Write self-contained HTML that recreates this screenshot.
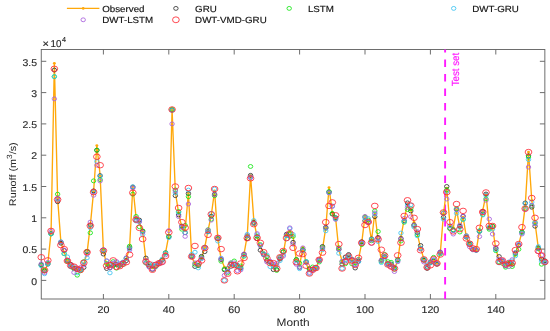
<!DOCTYPE html>
<html><head><meta charset="utf-8"><title>Runoff</title><style>html,body{margin:0;padding:0;background:#fff}body{width:550px;height:331px;overflow:hidden}</style></head><body>
<svg width="550" height="331" viewBox="0 0 550 331" style="display:block" text-rendering="geometricPrecision">
<rect width="550" height="331" fill="#fff"/>
<g stroke="#666666" stroke-width="0.95" fill="none" shape-rendering="auto">
<rect x="41.27" y="49.50" width="503.58" height="249.50"/>
<path d="M103.40 299.00v-5M103.40 49.50v5"/>
<path d="M168.80 299.00v-5M168.80 49.50v5"/>
<path d="M234.20 299.00v-5M234.20 49.50v5"/>
<path d="M299.60 299.00v-5M299.60 49.50v5"/>
<path d="M365.00 299.00v-5M365.00 49.50v5"/>
<path d="M430.40 299.00v-5M430.40 49.50v5"/>
<path d="M495.80 299.00v-5M495.80 49.50v5"/>
<path d="M41.27 280.40h5M544.85 280.40h-5"/>
<path d="M41.27 249.10h5M544.85 249.10h-5"/>
<path d="M41.27 217.80h5M544.85 217.80h-5"/>
<path d="M41.27 186.50h5M544.85 186.50h-5"/>
<path d="M41.27 155.20h5M544.85 155.20h-5"/>
<path d="M41.27 123.90h5M544.85 123.90h-5"/>
<path d="M41.27 92.60h5M544.85 92.60h-5"/>
<path d="M41.27 61.30h5M544.85 61.30h-5"/>
</g>
<g font-family="'Liberation Sans', Arial, sans-serif" font-size="9.8" fill="#262626" stroke="#262626" stroke-width="0.12">
<text transform="translate(103.40 312.5) scale(1.09 1)" text-anchor="middle">20</text>
<text transform="translate(168.80 312.5) scale(1.09 1)" text-anchor="middle">40</text>
<text transform="translate(234.20 312.5) scale(1.09 1)" text-anchor="middle">60</text>
<text transform="translate(299.60 312.5) scale(1.09 1)" text-anchor="middle">80</text>
<text transform="translate(365.00 312.5) scale(1.09 1)" text-anchor="middle">100</text>
<text transform="translate(430.40 312.5) scale(1.09 1)" text-anchor="middle">120</text>
<text transform="translate(495.80 312.5) scale(1.09 1)" text-anchor="middle">140</text>
<text transform="translate(37 284.60) scale(1.07 1)" text-anchor="end">0</text>
<text transform="translate(37 253.30) scale(1.07 1)" text-anchor="end">0.5</text>
<text transform="translate(37 222.00) scale(1.07 1)" text-anchor="end">1</text>
<text transform="translate(37 190.70) scale(1.07 1)" text-anchor="end">1.5</text>
<text transform="translate(37 159.40) scale(1.07 1)" text-anchor="end">2</text>
<text transform="translate(37 128.10) scale(1.07 1)" text-anchor="end">2.5</text>
<text transform="translate(37 96.80) scale(1.07 1)" text-anchor="end">3</text>
<text transform="translate(37 65.50) scale(1.07 1)" text-anchor="end">3.5</text>
<text transform="translate(42.5 47.2) scale(1.1 1)" font-size="10">×</text><text transform="translate(50.5 47.3) scale(0.98 1)" font-size="10">10</text><text transform="translate(62 42.3) scale(1 1)" font-size="7.2">4</text>
</g>
<g font-family="'Liberation Sans', Arial, sans-serif" font-size="11" fill="#262626">
<text transform="translate(293.06 325.6) scale(1.1 1)" text-anchor="middle" font-size="10.8">Month</text>
<text transform="translate(16 174.25) rotate(-90) scale(1.12 1)" text-anchor="middle" font-size="9.65">Runoff (m<tspan dy="-4" font-size="7.5">3</tspan><tspan dy="4">/s)</tspan></text>
</g>
<path d="M445.12 299.00V49.50" stroke="#ff1aff" stroke-width="1.9" stroke-dasharray="7.5 7" fill="none"/>
<text transform="translate(459.3 69.6) rotate(-90) scale(0.94 1)" text-anchor="middle" font-family="'Liberation Sans', Arial, sans-serif" font-size="10.3" fill="#ff1aff" stroke="#ff1aff" stroke-width="0.2">Test set</text>
<polyline points="41.27,264.12 44.54,271.64 47.81,263.50 51.08,232.20 54.35,63.18 57.62,198.39 60.89,242.21 64.16,252.23 67.43,260.99 70.70,266.00 73.97,268.51 77.24,270.07 80.51,269.76 83.78,264.12 87.05,252.86 90.32,225.31 93.59,191.51 96.86,145.43 100.13,175.23 103.40,250.35 106.67,265.06 109.94,266.00 113.21,264.12 116.48,264.75 119.75,264.75 123.02,263.50 126.29,259.12 129.56,247.85 132.83,186.50 136.10,217.80 139.37,222.81 142.64,231.57 145.91,259.99 149.18,265.00 152.45,267.88 155.72,265.69 158.99,262.87 162.26,260.99 165.53,252.86 168.80,235.33 172.07,109.19 175.34,192.13 178.61,212.79 181.88,227.82 185.15,230.32 188.42,192.76 191.69,257.24 194.96,263.50 198.23,265.38 201.50,258.49 204.77,247.22 208.04,230.32 211.31,214.98 214.58,190.88 217.85,239.08 221.12,259.12 224.39,266.94 227.66,270.07 230.93,265.06 234.20,266.00 237.47,267.88 240.74,268.51 244.01,254.11 247.28,235.33 250.55,175.23 253.82,220.30 257.09,237.21 260.36,247.22 263.63,252.23 266.90,259.12 270.17,264.12 273.44,265.69 276.71,266.63 279.98,259.12 283.25,254.11 286.52,234.70 289.79,231.57 293.06,236.58 296.33,259.99 299.60,265.69 302.87,247.22 306.14,263.50 309.41,271.01 312.68,269.44 315.95,267.88 319.22,260.37 322.49,249.10 325.76,227.82 329.03,187.44 332.30,212.79 335.57,217.80 338.84,250.04 342.11,260.99 345.38,259.12 348.65,255.99 351.92,259.99 355.19,264.12 358.46,259.74 361.73,242.84 365.00,215.92 368.27,220.93 371.54,240.34 374.81,212.79 378.08,240.02 381.35,260.99 384.62,255.99 387.89,264.12 391.16,265.06 394.43,267.88 397.70,261.62 400.97,236.58 404.24,219.05 407.51,204.03 410.78,209.97 414.05,222.18 417.32,234.08 420.59,247.85 423.86,259.12 427.13,265.69 430.40,262.25 433.67,260.37 436.94,263.50 440.21,254.42 443.48,214.04 446.75,188.00 450.02,225.00 453.29,227.82 456.56,209.97 459.83,227.82 463.10,217.17 466.37,237.21 469.64,244.09 472.91,249.10 476.18,250.98 479.45,230.32 482.72,210.91 485.99,194.01 489.26,227.19 492.53,227.19 495.80,249.10 499.07,259.99 502.34,261.62 505.61,264.12 508.88,262.87 512.15,264.12 515.42,254.42 518.69,244.09 521.96,232.20 525.23,205.91 528.50,152.07 531.77,200.27 535.04,223.00 538.31,247.85 541.58,259.74 544.85,260.99" fill="none" stroke="#ffa80a" stroke-width="1.35" stroke-linejoin="miter"/>
<g fill="#ffa80a">
<ellipse cx="41.27" cy="264.12" rx="1.45" ry="1.3"/>
<ellipse cx="44.54" cy="271.64" rx="1.45" ry="1.3"/>
<ellipse cx="47.81" cy="263.50" rx="1.45" ry="1.3"/>
<ellipse cx="51.08" cy="232.20" rx="1.45" ry="1.3"/>
<ellipse cx="54.35" cy="63.18" rx="1.45" ry="1.3"/>
<ellipse cx="57.62" cy="198.39" rx="1.45" ry="1.3"/>
<ellipse cx="60.89" cy="242.21" rx="1.45" ry="1.3"/>
<ellipse cx="64.16" cy="252.23" rx="1.45" ry="1.3"/>
<ellipse cx="67.43" cy="260.99" rx="1.45" ry="1.3"/>
<ellipse cx="70.70" cy="266.00" rx="1.45" ry="1.3"/>
<ellipse cx="73.97" cy="268.51" rx="1.45" ry="1.3"/>
<ellipse cx="77.24" cy="270.07" rx="1.45" ry="1.3"/>
<ellipse cx="80.51" cy="269.76" rx="1.45" ry="1.3"/>
<ellipse cx="83.78" cy="264.12" rx="1.45" ry="1.3"/>
<ellipse cx="87.05" cy="252.86" rx="1.45" ry="1.3"/>
<ellipse cx="90.32" cy="225.31" rx="1.45" ry="1.3"/>
<ellipse cx="93.59" cy="191.51" rx="1.45" ry="1.3"/>
<ellipse cx="96.86" cy="145.43" rx="1.45" ry="1.3"/>
<ellipse cx="100.13" cy="175.23" rx="1.45" ry="1.3"/>
<ellipse cx="103.40" cy="250.35" rx="1.45" ry="1.3"/>
<ellipse cx="106.67" cy="265.06" rx="1.45" ry="1.3"/>
<ellipse cx="109.94" cy="266.00" rx="1.45" ry="1.3"/>
<ellipse cx="113.21" cy="264.12" rx="1.45" ry="1.3"/>
<ellipse cx="116.48" cy="264.75" rx="1.45" ry="1.3"/>
<ellipse cx="119.75" cy="264.75" rx="1.45" ry="1.3"/>
<ellipse cx="123.02" cy="263.50" rx="1.45" ry="1.3"/>
<ellipse cx="126.29" cy="259.12" rx="1.45" ry="1.3"/>
<ellipse cx="129.56" cy="247.85" rx="1.45" ry="1.3"/>
<ellipse cx="132.83" cy="186.50" rx="1.45" ry="1.3"/>
<ellipse cx="136.10" cy="217.80" rx="1.45" ry="1.3"/>
<ellipse cx="139.37" cy="222.81" rx="1.45" ry="1.3"/>
<ellipse cx="142.64" cy="231.57" rx="1.45" ry="1.3"/>
<ellipse cx="145.91" cy="259.99" rx="1.45" ry="1.3"/>
<ellipse cx="149.18" cy="265.00" rx="1.45" ry="1.3"/>
<ellipse cx="152.45" cy="267.88" rx="1.45" ry="1.3"/>
<ellipse cx="155.72" cy="265.69" rx="1.45" ry="1.3"/>
<ellipse cx="158.99" cy="262.87" rx="1.45" ry="1.3"/>
<ellipse cx="162.26" cy="260.99" rx="1.45" ry="1.3"/>
<ellipse cx="165.53" cy="252.86" rx="1.45" ry="1.3"/>
<ellipse cx="168.80" cy="235.33" rx="1.45" ry="1.3"/>
<ellipse cx="172.07" cy="109.19" rx="1.45" ry="1.3"/>
<ellipse cx="175.34" cy="192.13" rx="1.45" ry="1.3"/>
<ellipse cx="178.61" cy="212.79" rx="1.45" ry="1.3"/>
<ellipse cx="181.88" cy="227.82" rx="1.45" ry="1.3"/>
<ellipse cx="185.15" cy="230.32" rx="1.45" ry="1.3"/>
<ellipse cx="188.42" cy="192.76" rx="1.45" ry="1.3"/>
<ellipse cx="191.69" cy="257.24" rx="1.45" ry="1.3"/>
<ellipse cx="194.96" cy="263.50" rx="1.45" ry="1.3"/>
<ellipse cx="198.23" cy="265.38" rx="1.45" ry="1.3"/>
<ellipse cx="201.50" cy="258.49" rx="1.45" ry="1.3"/>
<ellipse cx="204.77" cy="247.22" rx="1.45" ry="1.3"/>
<ellipse cx="208.04" cy="230.32" rx="1.45" ry="1.3"/>
<ellipse cx="211.31" cy="214.98" rx="1.45" ry="1.3"/>
<ellipse cx="214.58" cy="190.88" rx="1.45" ry="1.3"/>
<ellipse cx="217.85" cy="239.08" rx="1.45" ry="1.3"/>
<ellipse cx="221.12" cy="259.12" rx="1.45" ry="1.3"/>
<ellipse cx="224.39" cy="266.94" rx="1.45" ry="1.3"/>
<ellipse cx="227.66" cy="270.07" rx="1.45" ry="1.3"/>
<ellipse cx="230.93" cy="265.06" rx="1.45" ry="1.3"/>
<ellipse cx="234.20" cy="266.00" rx="1.45" ry="1.3"/>
<ellipse cx="237.47" cy="267.88" rx="1.45" ry="1.3"/>
<ellipse cx="240.74" cy="268.51" rx="1.45" ry="1.3"/>
<ellipse cx="244.01" cy="254.11" rx="1.45" ry="1.3"/>
<ellipse cx="247.28" cy="235.33" rx="1.45" ry="1.3"/>
<ellipse cx="250.55" cy="175.23" rx="1.45" ry="1.3"/>
<ellipse cx="253.82" cy="220.30" rx="1.45" ry="1.3"/>
<ellipse cx="257.09" cy="237.21" rx="1.45" ry="1.3"/>
<ellipse cx="260.36" cy="247.22" rx="1.45" ry="1.3"/>
<ellipse cx="263.63" cy="252.23" rx="1.45" ry="1.3"/>
<ellipse cx="266.90" cy="259.12" rx="1.45" ry="1.3"/>
<ellipse cx="270.17" cy="264.12" rx="1.45" ry="1.3"/>
<ellipse cx="273.44" cy="265.69" rx="1.45" ry="1.3"/>
<ellipse cx="276.71" cy="266.63" rx="1.45" ry="1.3"/>
<ellipse cx="279.98" cy="259.12" rx="1.45" ry="1.3"/>
<ellipse cx="283.25" cy="254.11" rx="1.45" ry="1.3"/>
<ellipse cx="286.52" cy="234.70" rx="1.45" ry="1.3"/>
<ellipse cx="289.79" cy="231.57" rx="1.45" ry="1.3"/>
<ellipse cx="293.06" cy="236.58" rx="1.45" ry="1.3"/>
<ellipse cx="296.33" cy="259.99" rx="1.45" ry="1.3"/>
<ellipse cx="299.60" cy="265.69" rx="1.45" ry="1.3"/>
<ellipse cx="302.87" cy="247.22" rx="1.45" ry="1.3"/>
<ellipse cx="306.14" cy="263.50" rx="1.45" ry="1.3"/>
<ellipse cx="309.41" cy="271.01" rx="1.45" ry="1.3"/>
<ellipse cx="312.68" cy="269.44" rx="1.45" ry="1.3"/>
<ellipse cx="315.95" cy="267.88" rx="1.45" ry="1.3"/>
<ellipse cx="319.22" cy="260.37" rx="1.45" ry="1.3"/>
<ellipse cx="322.49" cy="249.10" rx="1.45" ry="1.3"/>
<ellipse cx="325.76" cy="227.82" rx="1.45" ry="1.3"/>
<ellipse cx="329.03" cy="187.44" rx="1.45" ry="1.3"/>
<ellipse cx="332.30" cy="212.79" rx="1.45" ry="1.3"/>
<ellipse cx="335.57" cy="217.80" rx="1.45" ry="1.3"/>
<ellipse cx="338.84" cy="250.04" rx="1.45" ry="1.3"/>
<ellipse cx="342.11" cy="260.99" rx="1.45" ry="1.3"/>
<ellipse cx="345.38" cy="259.12" rx="1.45" ry="1.3"/>
<ellipse cx="348.65" cy="255.99" rx="1.45" ry="1.3"/>
<ellipse cx="351.92" cy="259.99" rx="1.45" ry="1.3"/>
<ellipse cx="355.19" cy="264.12" rx="1.45" ry="1.3"/>
<ellipse cx="358.46" cy="259.74" rx="1.45" ry="1.3"/>
<ellipse cx="361.73" cy="242.84" rx="1.45" ry="1.3"/>
<ellipse cx="365.00" cy="215.92" rx="1.45" ry="1.3"/>
<ellipse cx="368.27" cy="220.93" rx="1.45" ry="1.3"/>
<ellipse cx="371.54" cy="240.34" rx="1.45" ry="1.3"/>
<ellipse cx="374.81" cy="212.79" rx="1.45" ry="1.3"/>
<ellipse cx="378.08" cy="240.02" rx="1.45" ry="1.3"/>
<ellipse cx="381.35" cy="260.99" rx="1.45" ry="1.3"/>
<ellipse cx="384.62" cy="255.99" rx="1.45" ry="1.3"/>
<ellipse cx="387.89" cy="264.12" rx="1.45" ry="1.3"/>
<ellipse cx="391.16" cy="265.06" rx="1.45" ry="1.3"/>
<ellipse cx="394.43" cy="267.88" rx="1.45" ry="1.3"/>
<ellipse cx="397.70" cy="261.62" rx="1.45" ry="1.3"/>
<ellipse cx="400.97" cy="236.58" rx="1.45" ry="1.3"/>
<ellipse cx="404.24" cy="219.05" rx="1.45" ry="1.3"/>
<ellipse cx="407.51" cy="204.03" rx="1.45" ry="1.3"/>
<ellipse cx="410.78" cy="209.97" rx="1.45" ry="1.3"/>
<ellipse cx="414.05" cy="222.18" rx="1.45" ry="1.3"/>
<ellipse cx="417.32" cy="234.08" rx="1.45" ry="1.3"/>
<ellipse cx="420.59" cy="247.85" rx="1.45" ry="1.3"/>
<ellipse cx="423.86" cy="259.12" rx="1.45" ry="1.3"/>
<ellipse cx="427.13" cy="265.69" rx="1.45" ry="1.3"/>
<ellipse cx="430.40" cy="262.25" rx="1.45" ry="1.3"/>
<ellipse cx="433.67" cy="260.37" rx="1.45" ry="1.3"/>
<ellipse cx="436.94" cy="263.50" rx="1.45" ry="1.3"/>
<ellipse cx="440.21" cy="254.42" rx="1.45" ry="1.3"/>
<ellipse cx="443.48" cy="214.04" rx="1.45" ry="1.3"/>
<ellipse cx="446.75" cy="188.00" rx="1.45" ry="1.3"/>
<ellipse cx="450.02" cy="225.00" rx="1.45" ry="1.3"/>
<ellipse cx="453.29" cy="227.82" rx="1.45" ry="1.3"/>
<ellipse cx="456.56" cy="209.97" rx="1.45" ry="1.3"/>
<ellipse cx="459.83" cy="227.82" rx="1.45" ry="1.3"/>
<ellipse cx="463.10" cy="217.17" rx="1.45" ry="1.3"/>
<ellipse cx="466.37" cy="237.21" rx="1.45" ry="1.3"/>
<ellipse cx="469.64" cy="244.09" rx="1.45" ry="1.3"/>
<ellipse cx="472.91" cy="249.10" rx="1.45" ry="1.3"/>
<ellipse cx="476.18" cy="250.98" rx="1.45" ry="1.3"/>
<ellipse cx="479.45" cy="230.32" rx="1.45" ry="1.3"/>
<ellipse cx="482.72" cy="210.91" rx="1.45" ry="1.3"/>
<ellipse cx="485.99" cy="194.01" rx="1.45" ry="1.3"/>
<ellipse cx="489.26" cy="227.19" rx="1.45" ry="1.3"/>
<ellipse cx="492.53" cy="227.19" rx="1.45" ry="1.3"/>
<ellipse cx="495.80" cy="249.10" rx="1.45" ry="1.3"/>
<ellipse cx="499.07" cy="259.99" rx="1.45" ry="1.3"/>
<ellipse cx="502.34" cy="261.62" rx="1.45" ry="1.3"/>
<ellipse cx="505.61" cy="264.12" rx="1.45" ry="1.3"/>
<ellipse cx="508.88" cy="262.87" rx="1.45" ry="1.3"/>
<ellipse cx="512.15" cy="264.12" rx="1.45" ry="1.3"/>
<ellipse cx="515.42" cy="254.42" rx="1.45" ry="1.3"/>
<ellipse cx="518.69" cy="244.09" rx="1.45" ry="1.3"/>
<ellipse cx="521.96" cy="232.20" rx="1.45" ry="1.3"/>
<ellipse cx="525.23" cy="205.91" rx="1.45" ry="1.3"/>
<ellipse cx="528.50" cy="152.07" rx="1.45" ry="1.3"/>
<ellipse cx="531.77" cy="200.27" rx="1.45" ry="1.3"/>
<ellipse cx="535.04" cy="223.00" rx="1.45" ry="1.3"/>
<ellipse cx="538.31" cy="247.85" rx="1.45" ry="1.3"/>
<ellipse cx="541.58" cy="259.74" rx="1.45" ry="1.3"/>
<ellipse cx="544.85" cy="260.99" rx="1.45" ry="1.3"/>
</g>
<g fill="none" stroke="#333333" stroke-width="0.85">
<ellipse cx="41.27" cy="264.84" rx="2.22" ry="1.95"/>
<ellipse cx="44.54" cy="270.84" rx="2.22" ry="1.95"/>
<ellipse cx="47.81" cy="264.17" rx="2.22" ry="1.95"/>
<ellipse cx="51.08" cy="233.56" rx="2.22" ry="1.95"/>
<ellipse cx="54.35" cy="70.06" rx="2.22" ry="1.95"/>
<ellipse cx="57.62" cy="201.71" rx="2.22" ry="1.95"/>
<ellipse cx="60.89" cy="243.21" rx="2.22" ry="1.95"/>
<ellipse cx="64.16" cy="250.52" rx="2.22" ry="1.95"/>
<ellipse cx="67.43" cy="260.49" rx="2.22" ry="1.95"/>
<ellipse cx="70.70" cy="264.31" rx="2.22" ry="1.95"/>
<ellipse cx="73.97" cy="268.23" rx="2.22" ry="1.95"/>
<ellipse cx="77.24" cy="269.51" rx="2.22" ry="1.95"/>
<ellipse cx="80.51" cy="269.58" rx="2.22" ry="1.95"/>
<ellipse cx="83.78" cy="267.45" rx="2.22" ry="1.95"/>
<ellipse cx="87.05" cy="251.63" rx="2.22" ry="1.95"/>
<ellipse cx="90.32" cy="225.08" rx="2.22" ry="1.95"/>
<ellipse cx="93.59" cy="190.88" rx="2.22" ry="1.95"/>
<ellipse cx="96.86" cy="150.19" rx="2.22" ry="1.95"/>
<ellipse cx="100.13" cy="175.62" rx="2.22" ry="1.95"/>
<ellipse cx="103.40" cy="254.07" rx="2.22" ry="1.95"/>
<ellipse cx="106.67" cy="268.51" rx="2.22" ry="1.95"/>
<ellipse cx="109.94" cy="267.85" rx="2.22" ry="1.95"/>
<ellipse cx="113.21" cy="265.23" rx="2.22" ry="1.95"/>
<ellipse cx="116.48" cy="264.42" rx="2.22" ry="1.95"/>
<ellipse cx="119.75" cy="265.07" rx="2.22" ry="1.95"/>
<ellipse cx="123.02" cy="262.79" rx="2.22" ry="1.95"/>
<ellipse cx="126.29" cy="260.64" rx="2.22" ry="1.95"/>
<ellipse cx="129.56" cy="247.73" rx="2.22" ry="1.95"/>
<ellipse cx="132.83" cy="187.00" rx="2.22" ry="1.95"/>
<ellipse cx="136.10" cy="220.15" rx="2.22" ry="1.95"/>
<ellipse cx="139.37" cy="220.07" rx="2.22" ry="1.95"/>
<ellipse cx="142.64" cy="231.17" rx="2.22" ry="1.95"/>
<ellipse cx="145.91" cy="258.05" rx="2.22" ry="1.95"/>
<ellipse cx="149.18" cy="266.38" rx="2.22" ry="1.95"/>
<ellipse cx="152.45" cy="269.42" rx="2.22" ry="1.95"/>
<ellipse cx="155.72" cy="266.54" rx="2.22" ry="1.95"/>
<ellipse cx="158.99" cy="263.33" rx="2.22" ry="1.95"/>
<ellipse cx="162.26" cy="260.10" rx="2.22" ry="1.95"/>
<ellipse cx="165.53" cy="252.79" rx="2.22" ry="1.95"/>
<ellipse cx="168.80" cy="236.91" rx="2.22" ry="1.95"/>
<ellipse cx="172.07" cy="110.13" rx="2.22" ry="1.95"/>
<ellipse cx="175.34" cy="195.64" rx="2.22" ry="1.95"/>
<ellipse cx="178.61" cy="214.93" rx="2.22" ry="1.95"/>
<ellipse cx="181.88" cy="226.08" rx="2.22" ry="1.95"/>
<ellipse cx="185.15" cy="232.73" rx="2.22" ry="1.95"/>
<ellipse cx="188.42" cy="193.52" rx="2.22" ry="1.95"/>
<ellipse cx="191.69" cy="256.78" rx="2.22" ry="1.95"/>
<ellipse cx="194.96" cy="266.51" rx="2.22" ry="1.95"/>
<ellipse cx="198.23" cy="265.51" rx="2.22" ry="1.95"/>
<ellipse cx="201.50" cy="256.36" rx="2.22" ry="1.95"/>
<ellipse cx="204.77" cy="251.65" rx="2.22" ry="1.95"/>
<ellipse cx="208.04" cy="231.73" rx="2.22" ry="1.95"/>
<ellipse cx="211.31" cy="216.19" rx="2.22" ry="1.95"/>
<ellipse cx="214.58" cy="194.10" rx="2.22" ry="1.95"/>
<ellipse cx="217.85" cy="238.71" rx="2.22" ry="1.95"/>
<ellipse cx="221.12" cy="259.55" rx="2.22" ry="1.95"/>
<ellipse cx="224.39" cy="269.83" rx="2.22" ry="1.95"/>
<ellipse cx="227.66" cy="268.72" rx="2.22" ry="1.95"/>
<ellipse cx="230.93" cy="264.06" rx="2.22" ry="1.95"/>
<ellipse cx="234.20" cy="264.48" rx="2.22" ry="1.95"/>
<ellipse cx="237.47" cy="265.43" rx="2.22" ry="1.95"/>
<ellipse cx="240.74" cy="268.02" rx="2.22" ry="1.95"/>
<ellipse cx="244.01" cy="254.27" rx="2.22" ry="1.95"/>
<ellipse cx="247.28" cy="238.63" rx="2.22" ry="1.95"/>
<ellipse cx="250.55" cy="175.34" rx="2.22" ry="1.95"/>
<ellipse cx="253.82" cy="222.50" rx="2.22" ry="1.95"/>
<ellipse cx="257.09" cy="238.76" rx="2.22" ry="1.95"/>
<ellipse cx="260.36" cy="250.19" rx="2.22" ry="1.95"/>
<ellipse cx="263.63" cy="254.51" rx="2.22" ry="1.95"/>
<ellipse cx="266.90" cy="260.43" rx="2.22" ry="1.95"/>
<ellipse cx="270.17" cy="261.98" rx="2.22" ry="1.95"/>
<ellipse cx="273.44" cy="269.65" rx="2.22" ry="1.95"/>
<ellipse cx="276.71" cy="269.51" rx="2.22" ry="1.95"/>
<ellipse cx="279.98" cy="258.99" rx="2.22" ry="1.95"/>
<ellipse cx="283.25" cy="251.74" rx="2.22" ry="1.95"/>
<ellipse cx="286.52" cy="234.21" rx="2.22" ry="1.95"/>
<ellipse cx="289.79" cy="236.19" rx="2.22" ry="1.95"/>
<ellipse cx="293.06" cy="242.31" rx="2.22" ry="1.95"/>
<ellipse cx="296.33" cy="259.63" rx="2.22" ry="1.95"/>
<ellipse cx="299.60" cy="267.27" rx="2.22" ry="1.95"/>
<ellipse cx="302.87" cy="249.91" rx="2.22" ry="1.95"/>
<ellipse cx="306.14" cy="261.94" rx="2.22" ry="1.95"/>
<ellipse cx="309.41" cy="269.16" rx="2.22" ry="1.95"/>
<ellipse cx="312.68" cy="269.32" rx="2.22" ry="1.95"/>
<ellipse cx="315.95" cy="267.62" rx="2.22" ry="1.95"/>
<ellipse cx="319.22" cy="259.85" rx="2.22" ry="1.95"/>
<ellipse cx="322.49" cy="246.48" rx="2.22" ry="1.95"/>
<ellipse cx="325.76" cy="227.32" rx="2.22" ry="1.95"/>
<ellipse cx="329.03" cy="192.13" rx="2.22" ry="1.95"/>
<ellipse cx="332.30" cy="214.04" rx="2.22" ry="1.95"/>
<ellipse cx="335.57" cy="217.64" rx="2.22" ry="1.95"/>
<ellipse cx="338.84" cy="249.43" rx="2.22" ry="1.95"/>
<ellipse cx="342.11" cy="264.22" rx="2.22" ry="1.95"/>
<ellipse cx="345.38" cy="257.02" rx="2.22" ry="1.95"/>
<ellipse cx="348.65" cy="254.54" rx="2.22" ry="1.95"/>
<ellipse cx="351.92" cy="259.31" rx="2.22" ry="1.95"/>
<ellipse cx="355.19" cy="268.02" rx="2.22" ry="1.95"/>
<ellipse cx="358.46" cy="261.24" rx="2.22" ry="1.95"/>
<ellipse cx="361.73" cy="241.74" rx="2.22" ry="1.95"/>
<ellipse cx="365.00" cy="220.76" rx="2.22" ry="1.95"/>
<ellipse cx="368.27" cy="222.21" rx="2.22" ry="1.95"/>
<ellipse cx="371.54" cy="238.90" rx="2.22" ry="1.95"/>
<ellipse cx="374.81" cy="216.64" rx="2.22" ry="1.95"/>
<ellipse cx="378.08" cy="237.42" rx="2.22" ry="1.95"/>
<ellipse cx="381.35" cy="260.25" rx="2.22" ry="1.95"/>
<ellipse cx="384.62" cy="256.64" rx="2.22" ry="1.95"/>
<ellipse cx="387.89" cy="263.77" rx="2.22" ry="1.95"/>
<ellipse cx="391.16" cy="264.09" rx="2.22" ry="1.95"/>
<ellipse cx="394.43" cy="267.85" rx="2.22" ry="1.95"/>
<ellipse cx="397.70" cy="259.76" rx="2.22" ry="1.95"/>
<ellipse cx="400.97" cy="238.57" rx="2.22" ry="1.95"/>
<ellipse cx="404.24" cy="220.85" rx="2.22" ry="1.95"/>
<ellipse cx="407.51" cy="202.87" rx="2.22" ry="1.95"/>
<ellipse cx="410.78" cy="210.97" rx="2.22" ry="1.95"/>
<ellipse cx="414.05" cy="224.91" rx="2.22" ry="1.95"/>
<ellipse cx="417.32" cy="232.85" rx="2.22" ry="1.95"/>
<ellipse cx="420.59" cy="245.48" rx="2.22" ry="1.95"/>
<ellipse cx="423.86" cy="260.27" rx="2.22" ry="1.95"/>
<ellipse cx="427.13" cy="268.45" rx="2.22" ry="1.95"/>
<ellipse cx="430.40" cy="262.77" rx="2.22" ry="1.95"/>
<ellipse cx="433.67" cy="260.95" rx="2.22" ry="1.95"/>
<ellipse cx="436.94" cy="264.30" rx="2.22" ry="1.95"/>
<ellipse cx="440.21" cy="252.13" rx="2.22" ry="1.95"/>
<ellipse cx="443.48" cy="217.25" rx="2.22" ry="1.95"/>
<ellipse cx="446.75" cy="186.48" rx="2.22" ry="1.95"/>
<ellipse cx="450.02" cy="228.47" rx="2.22" ry="1.95"/>
<ellipse cx="453.29" cy="230.23" rx="2.22" ry="1.95"/>
<ellipse cx="456.56" cy="209.66" rx="2.22" ry="1.95"/>
<ellipse cx="459.83" cy="226.27" rx="2.22" ry="1.95"/>
<ellipse cx="463.10" cy="216.29" rx="2.22" ry="1.95"/>
<ellipse cx="466.37" cy="237.16" rx="2.22" ry="1.95"/>
<ellipse cx="469.64" cy="244.36" rx="2.22" ry="1.95"/>
<ellipse cx="472.91" cy="249.27" rx="2.22" ry="1.95"/>
<ellipse cx="476.18" cy="250.31" rx="2.22" ry="1.95"/>
<ellipse cx="479.45" cy="231.43" rx="2.22" ry="1.95"/>
<ellipse cx="482.72" cy="211.35" rx="2.22" ry="1.95"/>
<ellipse cx="485.99" cy="194.01" rx="2.22" ry="1.95"/>
<ellipse cx="489.26" cy="227.99" rx="2.22" ry="1.95"/>
<ellipse cx="492.53" cy="226.41" rx="2.22" ry="1.95"/>
<ellipse cx="495.80" cy="248.47" rx="2.22" ry="1.95"/>
<ellipse cx="499.07" cy="256.53" rx="2.22" ry="1.95"/>
<ellipse cx="502.34" cy="261.30" rx="2.22" ry="1.95"/>
<ellipse cx="505.61" cy="265.16" rx="2.22" ry="1.95"/>
<ellipse cx="508.88" cy="263.83" rx="2.22" ry="1.95"/>
<ellipse cx="512.15" cy="264.39" rx="2.22" ry="1.95"/>
<ellipse cx="515.42" cy="253.05" rx="2.22" ry="1.95"/>
<ellipse cx="518.69" cy="245.30" rx="2.22" ry="1.95"/>
<ellipse cx="521.96" cy="232.13" rx="2.22" ry="1.95"/>
<ellipse cx="525.23" cy="202.98" rx="2.22" ry="1.95"/>
<ellipse cx="528.50" cy="155.83" rx="2.22" ry="1.95"/>
<ellipse cx="531.77" cy="207.20" rx="2.22" ry="1.95"/>
<ellipse cx="535.04" cy="226.21" rx="2.22" ry="1.95"/>
<ellipse cx="538.31" cy="247.86" rx="2.22" ry="1.95"/>
<ellipse cx="541.58" cy="259.30" rx="2.22" ry="1.95"/>
<ellipse cx="544.85" cy="260.84" rx="2.22" ry="1.95"/>
</g>
<g fill="none" stroke="#14e614" stroke-width="0.85">
<ellipse cx="41.27" cy="265.17" rx="2.22" ry="1.95"/>
<ellipse cx="44.54" cy="270.58" rx="2.22" ry="1.95"/>
<ellipse cx="47.81" cy="263.23" rx="2.22" ry="1.95"/>
<ellipse cx="51.08" cy="233.99" rx="2.22" ry="1.95"/>
<ellipse cx="54.35" cy="76.64" rx="2.22" ry="1.95"/>
<ellipse cx="57.62" cy="194.17" rx="2.22" ry="1.95"/>
<ellipse cx="60.89" cy="242.08" rx="2.22" ry="1.95"/>
<ellipse cx="64.16" cy="253.72" rx="2.22" ry="1.95"/>
<ellipse cx="67.43" cy="261.47" rx="2.22" ry="1.95"/>
<ellipse cx="70.70" cy="266.63" rx="2.22" ry="1.95"/>
<ellipse cx="73.97" cy="268.80" rx="2.22" ry="1.95"/>
<ellipse cx="77.24" cy="275.18" rx="2.22" ry="1.95"/>
<ellipse cx="80.51" cy="270.80" rx="2.22" ry="1.95"/>
<ellipse cx="83.78" cy="261.62" rx="2.22" ry="1.95"/>
<ellipse cx="87.05" cy="251.33" rx="2.22" ry="1.95"/>
<ellipse cx="90.32" cy="232.82" rx="2.22" ry="1.95"/>
<ellipse cx="93.59" cy="180.87" rx="2.22" ry="1.95"/>
<ellipse cx="96.86" cy="150.19" rx="2.22" ry="1.95"/>
<ellipse cx="100.13" cy="179.60" rx="2.22" ry="1.95"/>
<ellipse cx="103.40" cy="250.93" rx="2.22" ry="1.95"/>
<ellipse cx="106.67" cy="263.53" rx="2.22" ry="1.95"/>
<ellipse cx="109.94" cy="264.64" rx="2.22" ry="1.95"/>
<ellipse cx="113.21" cy="261.61" rx="2.22" ry="1.95"/>
<ellipse cx="116.48" cy="268.13" rx="2.22" ry="1.95"/>
<ellipse cx="119.75" cy="265.64" rx="2.22" ry="1.95"/>
<ellipse cx="123.02" cy="264.38" rx="2.22" ry="1.95"/>
<ellipse cx="126.29" cy="258.26" rx="2.22" ry="1.95"/>
<ellipse cx="129.56" cy="246.21" rx="2.22" ry="1.95"/>
<ellipse cx="132.83" cy="194.12" rx="2.22" ry="1.95"/>
<ellipse cx="136.10" cy="216.42" rx="2.22" ry="1.95"/>
<ellipse cx="139.37" cy="226.71" rx="2.22" ry="1.95"/>
<ellipse cx="142.64" cy="230.91" rx="2.22" ry="1.95"/>
<ellipse cx="145.91" cy="263.10" rx="2.22" ry="1.95"/>
<ellipse cx="149.18" cy="264.91" rx="2.22" ry="1.95"/>
<ellipse cx="152.45" cy="265.88" rx="2.22" ry="1.95"/>
<ellipse cx="155.72" cy="266.18" rx="2.22" ry="1.95"/>
<ellipse cx="158.99" cy="262.78" rx="2.22" ry="1.95"/>
<ellipse cx="162.26" cy="259.80" rx="2.22" ry="1.95"/>
<ellipse cx="165.53" cy="253.00" rx="2.22" ry="1.95"/>
<ellipse cx="168.80" cy="236.18" rx="2.22" ry="1.95"/>
<ellipse cx="172.07" cy="109.19" rx="2.22" ry="1.95"/>
<ellipse cx="175.34" cy="189.96" rx="2.22" ry="1.95"/>
<ellipse cx="178.61" cy="211.54" rx="2.22" ry="1.95"/>
<ellipse cx="181.88" cy="229.21" rx="2.22" ry="1.95"/>
<ellipse cx="185.15" cy="225.43" rx="2.22" ry="1.95"/>
<ellipse cx="188.42" cy="196.69" rx="2.22" ry="1.95"/>
<ellipse cx="191.69" cy="255.86" rx="2.22" ry="1.95"/>
<ellipse cx="194.96" cy="264.24" rx="2.22" ry="1.95"/>
<ellipse cx="198.23" cy="265.36" rx="2.22" ry="1.95"/>
<ellipse cx="201.50" cy="257.49" rx="2.22" ry="1.95"/>
<ellipse cx="204.77" cy="247.29" rx="2.22" ry="1.95"/>
<ellipse cx="208.04" cy="229.76" rx="2.22" ry="1.95"/>
<ellipse cx="211.31" cy="219.24" rx="2.22" ry="1.95"/>
<ellipse cx="214.58" cy="195.68" rx="2.22" ry="1.95"/>
<ellipse cx="217.85" cy="238.47" rx="2.22" ry="1.95"/>
<ellipse cx="221.12" cy="261.25" rx="2.22" ry="1.95"/>
<ellipse cx="224.39" cy="269.03" rx="2.22" ry="1.95"/>
<ellipse cx="227.66" cy="272.89" rx="2.22" ry="1.95"/>
<ellipse cx="230.93" cy="262.96" rx="2.22" ry="1.95"/>
<ellipse cx="234.20" cy="260.99" rx="2.22" ry="1.95"/>
<ellipse cx="237.47" cy="266.70" rx="2.22" ry="1.95"/>
<ellipse cx="240.74" cy="266.00" rx="2.22" ry="1.95"/>
<ellipse cx="244.01" cy="256.29" rx="2.22" ry="1.95"/>
<ellipse cx="247.28" cy="236.00" rx="2.22" ry="1.95"/>
<ellipse cx="250.55" cy="166.47" rx="2.22" ry="1.95"/>
<ellipse cx="253.82" cy="223.62" rx="2.22" ry="1.95"/>
<ellipse cx="257.09" cy="236.31" rx="2.22" ry="1.95"/>
<ellipse cx="260.36" cy="244.62" rx="2.22" ry="1.95"/>
<ellipse cx="263.63" cy="254.36" rx="2.22" ry="1.95"/>
<ellipse cx="266.90" cy="256.50" rx="2.22" ry="1.95"/>
<ellipse cx="270.17" cy="262.54" rx="2.22" ry="1.95"/>
<ellipse cx="273.44" cy="266.24" rx="2.22" ry="1.95"/>
<ellipse cx="276.71" cy="270.45" rx="2.22" ry="1.95"/>
<ellipse cx="279.98" cy="257.24" rx="2.22" ry="1.95"/>
<ellipse cx="283.25" cy="251.81" rx="2.22" ry="1.95"/>
<ellipse cx="286.52" cy="235.58" rx="2.22" ry="1.95"/>
<ellipse cx="289.79" cy="233.54" rx="2.22" ry="1.95"/>
<ellipse cx="293.06" cy="236.43" rx="2.22" ry="1.95"/>
<ellipse cx="296.33" cy="259.53" rx="2.22" ry="1.95"/>
<ellipse cx="299.60" cy="263.15" rx="2.22" ry="1.95"/>
<ellipse cx="302.87" cy="249.71" rx="2.22" ry="1.95"/>
<ellipse cx="306.14" cy="261.64" rx="2.22" ry="1.95"/>
<ellipse cx="309.41" cy="268.46" rx="2.22" ry="1.95"/>
<ellipse cx="312.68" cy="266.97" rx="2.22" ry="1.95"/>
<ellipse cx="315.95" cy="268.40" rx="2.22" ry="1.95"/>
<ellipse cx="319.22" cy="262.06" rx="2.22" ry="1.95"/>
<ellipse cx="322.49" cy="247.59" rx="2.22" ry="1.95"/>
<ellipse cx="325.76" cy="228.37" rx="2.22" ry="1.95"/>
<ellipse cx="329.03" cy="191.51" rx="2.22" ry="1.95"/>
<ellipse cx="332.30" cy="213.42" rx="2.22" ry="1.95"/>
<ellipse cx="335.57" cy="218.47" rx="2.22" ry="1.95"/>
<ellipse cx="338.84" cy="247.74" rx="2.22" ry="1.95"/>
<ellipse cx="342.11" cy="261.78" rx="2.22" ry="1.95"/>
<ellipse cx="345.38" cy="263.75" rx="2.22" ry="1.95"/>
<ellipse cx="348.65" cy="257.09" rx="2.22" ry="1.95"/>
<ellipse cx="351.92" cy="263.78" rx="2.22" ry="1.95"/>
<ellipse cx="355.19" cy="262.85" rx="2.22" ry="1.95"/>
<ellipse cx="358.46" cy="259.46" rx="2.22" ry="1.95"/>
<ellipse cx="361.73" cy="244.61" rx="2.22" ry="1.95"/>
<ellipse cx="365.00" cy="216.91" rx="2.22" ry="1.95"/>
<ellipse cx="368.27" cy="220.07" rx="2.22" ry="1.95"/>
<ellipse cx="371.54" cy="240.78" rx="2.22" ry="1.95"/>
<ellipse cx="374.81" cy="210.94" rx="2.22" ry="1.95"/>
<ellipse cx="378.08" cy="231.57" rx="2.22" ry="1.95"/>
<ellipse cx="381.35" cy="261.40" rx="2.22" ry="1.95"/>
<ellipse cx="384.62" cy="254.38" rx="2.22" ry="1.95"/>
<ellipse cx="387.89" cy="261.61" rx="2.22" ry="1.95"/>
<ellipse cx="391.16" cy="262.32" rx="2.22" ry="1.95"/>
<ellipse cx="394.43" cy="269.30" rx="2.22" ry="1.95"/>
<ellipse cx="397.70" cy="260.26" rx="2.22" ry="1.95"/>
<ellipse cx="400.97" cy="241.02" rx="2.22" ry="1.95"/>
<ellipse cx="404.24" cy="222.27" rx="2.22" ry="1.95"/>
<ellipse cx="407.51" cy="209.51" rx="2.22" ry="1.95"/>
<ellipse cx="410.78" cy="208.71" rx="2.22" ry="1.95"/>
<ellipse cx="414.05" cy="225.64" rx="2.22" ry="1.95"/>
<ellipse cx="417.32" cy="234.80" rx="2.22" ry="1.95"/>
<ellipse cx="420.59" cy="248.71" rx="2.22" ry="1.95"/>
<ellipse cx="423.86" cy="259.49" rx="2.22" ry="1.95"/>
<ellipse cx="427.13" cy="267.00" rx="2.22" ry="1.95"/>
<ellipse cx="430.40" cy="262.08" rx="2.22" ry="1.95"/>
<ellipse cx="433.67" cy="257.31" rx="2.22" ry="1.95"/>
<ellipse cx="436.94" cy="263.67" rx="2.22" ry="1.95"/>
<ellipse cx="440.21" cy="253.80" rx="2.22" ry="1.95"/>
<ellipse cx="443.48" cy="212.89" rx="2.22" ry="1.95"/>
<ellipse cx="446.75" cy="189.85" rx="2.22" ry="1.95"/>
<ellipse cx="450.02" cy="228.46" rx="2.22" ry="1.95"/>
<ellipse cx="453.29" cy="229.75" rx="2.22" ry="1.95"/>
<ellipse cx="456.56" cy="208.70" rx="2.22" ry="1.95"/>
<ellipse cx="459.83" cy="232.01" rx="2.22" ry="1.95"/>
<ellipse cx="463.10" cy="219.40" rx="2.22" ry="1.95"/>
<ellipse cx="466.37" cy="235.83" rx="2.22" ry="1.95"/>
<ellipse cx="469.64" cy="243.07" rx="2.22" ry="1.95"/>
<ellipse cx="472.91" cy="249.55" rx="2.22" ry="1.95"/>
<ellipse cx="476.18" cy="249.87" rx="2.22" ry="1.95"/>
<ellipse cx="479.45" cy="230.73" rx="2.22" ry="1.95"/>
<ellipse cx="482.72" cy="214.51" rx="2.22" ry="1.95"/>
<ellipse cx="485.99" cy="198.86" rx="2.22" ry="1.95"/>
<ellipse cx="489.26" cy="229.31" rx="2.22" ry="1.95"/>
<ellipse cx="492.53" cy="226.08" rx="2.22" ry="1.95"/>
<ellipse cx="495.80" cy="250.67" rx="2.22" ry="1.95"/>
<ellipse cx="499.07" cy="261.99" rx="2.22" ry="1.95"/>
<ellipse cx="502.34" cy="263.34" rx="2.22" ry="1.95"/>
<ellipse cx="505.61" cy="267.20" rx="2.22" ry="1.95"/>
<ellipse cx="508.88" cy="263.35" rx="2.22" ry="1.95"/>
<ellipse cx="512.15" cy="266.55" rx="2.22" ry="1.95"/>
<ellipse cx="515.42" cy="254.12" rx="2.22" ry="1.95"/>
<ellipse cx="518.69" cy="249.29" rx="2.22" ry="1.95"/>
<ellipse cx="521.96" cy="232.25" rx="2.22" ry="1.95"/>
<ellipse cx="525.23" cy="208.43" rx="2.22" ry="1.95"/>
<ellipse cx="528.50" cy="157.08" rx="2.22" ry="1.95"/>
<ellipse cx="531.77" cy="205.81" rx="2.22" ry="1.95"/>
<ellipse cx="535.04" cy="222.34" rx="2.22" ry="1.95"/>
<ellipse cx="538.31" cy="248.87" rx="2.22" ry="1.95"/>
<ellipse cx="541.58" cy="264.24" rx="2.22" ry="1.95"/>
<ellipse cx="544.85" cy="262.92" rx="2.22" ry="1.95"/>
</g>
<g fill="none" stroke="#3cc4f2" stroke-width="0.85">
<ellipse cx="41.27" cy="265.74" rx="2.22" ry="1.95"/>
<ellipse cx="44.54" cy="273.77" rx="2.22" ry="1.95"/>
<ellipse cx="47.81" cy="263.97" rx="2.22" ry="1.95"/>
<ellipse cx="51.08" cy="233.92" rx="2.22" ry="1.95"/>
<ellipse cx="54.35" cy="76.64" rx="2.22" ry="1.95"/>
<ellipse cx="57.62" cy="199.39" rx="2.22" ry="1.95"/>
<ellipse cx="60.89" cy="241.75" rx="2.22" ry="1.95"/>
<ellipse cx="64.16" cy="253.45" rx="2.22" ry="1.95"/>
<ellipse cx="67.43" cy="256.94" rx="2.22" ry="1.95"/>
<ellipse cx="70.70" cy="266.81" rx="2.22" ry="1.95"/>
<ellipse cx="73.97" cy="266.67" rx="2.22" ry="1.95"/>
<ellipse cx="77.24" cy="272.89" rx="2.22" ry="1.95"/>
<ellipse cx="80.51" cy="269.70" rx="2.22" ry="1.95"/>
<ellipse cx="83.78" cy="262.30" rx="2.22" ry="1.95"/>
<ellipse cx="87.05" cy="257.83" rx="2.22" ry="1.95"/>
<ellipse cx="90.32" cy="227.70" rx="2.22" ry="1.95"/>
<ellipse cx="93.59" cy="192.13" rx="2.22" ry="1.95"/>
<ellipse cx="96.86" cy="161.46" rx="2.22" ry="1.95"/>
<ellipse cx="100.13" cy="176.22" rx="2.22" ry="1.95"/>
<ellipse cx="103.40" cy="249.64" rx="2.22" ry="1.95"/>
<ellipse cx="106.67" cy="260.98" rx="2.22" ry="1.95"/>
<ellipse cx="109.94" cy="272.89" rx="2.22" ry="1.95"/>
<ellipse cx="113.21" cy="263.77" rx="2.22" ry="1.95"/>
<ellipse cx="116.48" cy="262.62" rx="2.22" ry="1.95"/>
<ellipse cx="119.75" cy="263.57" rx="2.22" ry="1.95"/>
<ellipse cx="123.02" cy="261.99" rx="2.22" ry="1.95"/>
<ellipse cx="126.29" cy="258.48" rx="2.22" ry="1.95"/>
<ellipse cx="129.56" cy="248.64" rx="2.22" ry="1.95"/>
<ellipse cx="132.83" cy="186.73" rx="2.22" ry="1.95"/>
<ellipse cx="136.10" cy="221.03" rx="2.22" ry="1.95"/>
<ellipse cx="139.37" cy="221.19" rx="2.22" ry="1.95"/>
<ellipse cx="142.64" cy="234.39" rx="2.22" ry="1.95"/>
<ellipse cx="145.91" cy="262.87" rx="2.22" ry="1.95"/>
<ellipse cx="149.18" cy="264.77" rx="2.22" ry="1.95"/>
<ellipse cx="152.45" cy="264.19" rx="2.22" ry="1.95"/>
<ellipse cx="155.72" cy="266.32" rx="2.22" ry="1.95"/>
<ellipse cx="158.99" cy="263.10" rx="2.22" ry="1.95"/>
<ellipse cx="162.26" cy="259.11" rx="2.22" ry="1.95"/>
<ellipse cx="165.53" cy="253.22" rx="2.22" ry="1.95"/>
<ellipse cx="168.80" cy="237.64" rx="2.22" ry="1.95"/>
<ellipse cx="172.07" cy="110.44" rx="2.22" ry="1.95"/>
<ellipse cx="175.34" cy="192.87" rx="2.22" ry="1.95"/>
<ellipse cx="178.61" cy="212.55" rx="2.22" ry="1.95"/>
<ellipse cx="181.88" cy="227.14" rx="2.22" ry="1.95"/>
<ellipse cx="185.15" cy="232.66" rx="2.22" ry="1.95"/>
<ellipse cx="188.42" cy="190.08" rx="2.22" ry="1.95"/>
<ellipse cx="191.69" cy="254.43" rx="2.22" ry="1.95"/>
<ellipse cx="194.96" cy="252.23" rx="2.22" ry="1.95"/>
<ellipse cx="198.23" cy="267.88" rx="2.22" ry="1.95"/>
<ellipse cx="201.50" cy="258.78" rx="2.22" ry="1.95"/>
<ellipse cx="204.77" cy="247.20" rx="2.22" ry="1.95"/>
<ellipse cx="208.04" cy="231.95" rx="2.22" ry="1.95"/>
<ellipse cx="211.31" cy="213.42" rx="2.22" ry="1.95"/>
<ellipse cx="214.58" cy="188.99" rx="2.22" ry="1.95"/>
<ellipse cx="217.85" cy="241.11" rx="2.22" ry="1.95"/>
<ellipse cx="221.12" cy="258.17" rx="2.22" ry="1.95"/>
<ellipse cx="224.39" cy="280.40" rx="2.22" ry="1.95"/>
<ellipse cx="227.66" cy="271.10" rx="2.22" ry="1.95"/>
<ellipse cx="230.93" cy="266.57" rx="2.22" ry="1.95"/>
<ellipse cx="234.20" cy="264.90" rx="2.22" ry="1.95"/>
<ellipse cx="237.47" cy="265.63" rx="2.22" ry="1.95"/>
<ellipse cx="240.74" cy="268.70" rx="2.22" ry="1.95"/>
<ellipse cx="244.01" cy="255.80" rx="2.22" ry="1.95"/>
<ellipse cx="247.28" cy="234.36" rx="2.22" ry="1.95"/>
<ellipse cx="250.55" cy="176.93" rx="2.22" ry="1.95"/>
<ellipse cx="253.82" cy="220.55" rx="2.22" ry="1.95"/>
<ellipse cx="257.09" cy="234.79" rx="2.22" ry="1.95"/>
<ellipse cx="260.36" cy="245.51" rx="2.22" ry="1.95"/>
<ellipse cx="263.63" cy="253.65" rx="2.22" ry="1.95"/>
<ellipse cx="266.90" cy="255.14" rx="2.22" ry="1.95"/>
<ellipse cx="270.17" cy="266.63" rx="2.22" ry="1.95"/>
<ellipse cx="273.44" cy="265.90" rx="2.22" ry="1.95"/>
<ellipse cx="276.71" cy="265.39" rx="2.22" ry="1.95"/>
<ellipse cx="279.98" cy="260.65" rx="2.22" ry="1.95"/>
<ellipse cx="283.25" cy="254.59" rx="2.22" ry="1.95"/>
<ellipse cx="286.52" cy="238.93" rx="2.22" ry="1.95"/>
<ellipse cx="289.79" cy="228.65" rx="2.22" ry="1.95"/>
<ellipse cx="293.06" cy="234.48" rx="2.22" ry="1.95"/>
<ellipse cx="296.33" cy="262.58" rx="2.22" ry="1.95"/>
<ellipse cx="299.60" cy="268.68" rx="2.22" ry="1.95"/>
<ellipse cx="302.87" cy="250.88" rx="2.22" ry="1.95"/>
<ellipse cx="306.14" cy="261.57" rx="2.22" ry="1.95"/>
<ellipse cx="309.41" cy="273.51" rx="2.22" ry="1.95"/>
<ellipse cx="312.68" cy="270.45" rx="2.22" ry="1.95"/>
<ellipse cx="315.95" cy="268.18" rx="2.22" ry="1.95"/>
<ellipse cx="319.22" cy="261.25" rx="2.22" ry="1.95"/>
<ellipse cx="322.49" cy="249.80" rx="2.22" ry="1.95"/>
<ellipse cx="325.76" cy="230.86" rx="2.22" ry="1.95"/>
<ellipse cx="329.03" cy="192.76" rx="2.22" ry="1.95"/>
<ellipse cx="332.30" cy="205.91" rx="2.22" ry="1.95"/>
<ellipse cx="335.57" cy="218.69" rx="2.22" ry="1.95"/>
<ellipse cx="338.84" cy="253.28" rx="2.22" ry="1.95"/>
<ellipse cx="342.11" cy="268.51" rx="2.22" ry="1.95"/>
<ellipse cx="345.38" cy="259.57" rx="2.22" ry="1.95"/>
<ellipse cx="348.65" cy="255.77" rx="2.22" ry="1.95"/>
<ellipse cx="351.92" cy="259.42" rx="2.22" ry="1.95"/>
<ellipse cx="355.19" cy="264.80" rx="2.22" ry="1.95"/>
<ellipse cx="358.46" cy="261.75" rx="2.22" ry="1.95"/>
<ellipse cx="361.73" cy="243.09" rx="2.22" ry="1.95"/>
<ellipse cx="365.00" cy="217.93" rx="2.22" ry="1.95"/>
<ellipse cx="368.27" cy="218.52" rx="2.22" ry="1.95"/>
<ellipse cx="371.54" cy="239.41" rx="2.22" ry="1.95"/>
<ellipse cx="374.81" cy="214.05" rx="2.22" ry="1.95"/>
<ellipse cx="378.08" cy="241.57" rx="2.22" ry="1.95"/>
<ellipse cx="381.35" cy="262.60" rx="2.22" ry="1.95"/>
<ellipse cx="384.62" cy="258.13" rx="2.22" ry="1.95"/>
<ellipse cx="387.89" cy="265.02" rx="2.22" ry="1.95"/>
<ellipse cx="391.16" cy="264.75" rx="2.22" ry="1.95"/>
<ellipse cx="394.43" cy="267.13" rx="2.22" ry="1.95"/>
<ellipse cx="397.70" cy="260.84" rx="2.22" ry="1.95"/>
<ellipse cx="400.97" cy="233.01" rx="2.22" ry="1.95"/>
<ellipse cx="404.24" cy="221.47" rx="2.22" ry="1.95"/>
<ellipse cx="407.51" cy="205.14" rx="2.22" ry="1.95"/>
<ellipse cx="410.78" cy="204.95" rx="2.22" ry="1.95"/>
<ellipse cx="414.05" cy="226.98" rx="2.22" ry="1.95"/>
<ellipse cx="417.32" cy="235.83" rx="2.22" ry="1.95"/>
<ellipse cx="420.59" cy="248.01" rx="2.22" ry="1.95"/>
<ellipse cx="423.86" cy="259.14" rx="2.22" ry="1.95"/>
<ellipse cx="427.13" cy="265.16" rx="2.22" ry="1.95"/>
<ellipse cx="430.40" cy="262.96" rx="2.22" ry="1.95"/>
<ellipse cx="433.67" cy="259.98" rx="2.22" ry="1.95"/>
<ellipse cx="436.94" cy="263.65" rx="2.22" ry="1.95"/>
<ellipse cx="440.21" cy="253.34" rx="2.22" ry="1.95"/>
<ellipse cx="443.48" cy="219.11" rx="2.22" ry="1.95"/>
<ellipse cx="446.75" cy="191.43" rx="2.22" ry="1.95"/>
<ellipse cx="450.02" cy="225.83" rx="2.22" ry="1.95"/>
<ellipse cx="453.29" cy="230.74" rx="2.22" ry="1.95"/>
<ellipse cx="456.56" cy="213.30" rx="2.22" ry="1.95"/>
<ellipse cx="459.83" cy="227.31" rx="2.22" ry="1.95"/>
<ellipse cx="463.10" cy="219.51" rx="2.22" ry="1.95"/>
<ellipse cx="466.37" cy="236.58" rx="2.22" ry="1.95"/>
<ellipse cx="469.64" cy="243.17" rx="2.22" ry="1.95"/>
<ellipse cx="472.91" cy="248.97" rx="2.22" ry="1.95"/>
<ellipse cx="476.18" cy="250.44" rx="2.22" ry="1.95"/>
<ellipse cx="479.45" cy="231.29" rx="2.22" ry="1.95"/>
<ellipse cx="482.72" cy="215.01" rx="2.22" ry="1.95"/>
<ellipse cx="485.99" cy="195.38" rx="2.22" ry="1.95"/>
<ellipse cx="489.26" cy="227.05" rx="2.22" ry="1.95"/>
<ellipse cx="492.53" cy="229.09" rx="2.22" ry="1.95"/>
<ellipse cx="495.80" cy="249.76" rx="2.22" ry="1.95"/>
<ellipse cx="499.07" cy="262.87" rx="2.22" ry="1.95"/>
<ellipse cx="502.34" cy="260.50" rx="2.22" ry="1.95"/>
<ellipse cx="505.61" cy="265.99" rx="2.22" ry="1.95"/>
<ellipse cx="508.88" cy="261.95" rx="2.22" ry="1.95"/>
<ellipse cx="512.15" cy="260.92" rx="2.22" ry="1.95"/>
<ellipse cx="515.42" cy="255.87" rx="2.22" ry="1.95"/>
<ellipse cx="518.69" cy="244.35" rx="2.22" ry="1.95"/>
<ellipse cx="521.96" cy="233.23" rx="2.22" ry="1.95"/>
<ellipse cx="525.23" cy="203.64" rx="2.22" ry="1.95"/>
<ellipse cx="528.50" cy="159.58" rx="2.22" ry="1.95"/>
<ellipse cx="531.77" cy="202.15" rx="2.22" ry="1.95"/>
<ellipse cx="535.04" cy="223.19" rx="2.22" ry="1.95"/>
<ellipse cx="538.31" cy="246.59" rx="2.22" ry="1.95"/>
<ellipse cx="541.58" cy="261.35" rx="2.22" ry="1.95"/>
<ellipse cx="544.85" cy="262.87" rx="2.22" ry="1.95"/>
</g>
<g fill="none" stroke="#a85fdc" stroke-width="0.85">
<ellipse cx="41.27" cy="263.83" rx="2.22" ry="1.95"/>
<ellipse cx="44.54" cy="272.60" rx="2.22" ry="1.95"/>
<ellipse cx="47.81" cy="262.31" rx="2.22" ry="1.95"/>
<ellipse cx="51.08" cy="231.39" rx="2.22" ry="1.95"/>
<ellipse cx="54.35" cy="98.86" rx="2.22" ry="1.95"/>
<ellipse cx="57.62" cy="198.13" rx="2.22" ry="1.95"/>
<ellipse cx="60.89" cy="242.14" rx="2.22" ry="1.95"/>
<ellipse cx="64.16" cy="250.09" rx="2.22" ry="1.95"/>
<ellipse cx="67.43" cy="260.05" rx="2.22" ry="1.95"/>
<ellipse cx="70.70" cy="265.39" rx="2.22" ry="1.95"/>
<ellipse cx="73.97" cy="272.49" rx="2.22" ry="1.95"/>
<ellipse cx="77.24" cy="268.60" rx="2.22" ry="1.95"/>
<ellipse cx="80.51" cy="267.54" rx="2.22" ry="1.95"/>
<ellipse cx="83.78" cy="264.92" rx="2.22" ry="1.95"/>
<ellipse cx="87.05" cy="254.17" rx="2.22" ry="1.95"/>
<ellipse cx="90.32" cy="222.10" rx="2.22" ry="1.95"/>
<ellipse cx="93.59" cy="195.26" rx="2.22" ry="1.95"/>
<ellipse cx="96.86" cy="165.22" rx="2.22" ry="1.95"/>
<ellipse cx="100.13" cy="181.00" rx="2.22" ry="1.95"/>
<ellipse cx="103.40" cy="249.90" rx="2.22" ry="1.95"/>
<ellipse cx="106.67" cy="260.82" rx="2.22" ry="1.95"/>
<ellipse cx="109.94" cy="267.92" rx="2.22" ry="1.95"/>
<ellipse cx="113.21" cy="263.09" rx="2.22" ry="1.95"/>
<ellipse cx="116.48" cy="261.50" rx="2.22" ry="1.95"/>
<ellipse cx="119.75" cy="265.21" rx="2.22" ry="1.95"/>
<ellipse cx="123.02" cy="262.71" rx="2.22" ry="1.95"/>
<ellipse cx="126.29" cy="257.74" rx="2.22" ry="1.95"/>
<ellipse cx="129.56" cy="250.10" rx="2.22" ry="1.95"/>
<ellipse cx="132.83" cy="188.11" rx="2.22" ry="1.95"/>
<ellipse cx="136.10" cy="218.12" rx="2.22" ry="1.95"/>
<ellipse cx="139.37" cy="221.94" rx="2.22" ry="1.95"/>
<ellipse cx="142.64" cy="232.38" rx="2.22" ry="1.95"/>
<ellipse cx="145.91" cy="260.66" rx="2.22" ry="1.95"/>
<ellipse cx="149.18" cy="267.11" rx="2.22" ry="1.95"/>
<ellipse cx="152.45" cy="268.72" rx="2.22" ry="1.95"/>
<ellipse cx="155.72" cy="264.27" rx="2.22" ry="1.95"/>
<ellipse cx="158.99" cy="262.95" rx="2.22" ry="1.95"/>
<ellipse cx="162.26" cy="262.88" rx="2.22" ry="1.95"/>
<ellipse cx="165.53" cy="254.88" rx="2.22" ry="1.95"/>
<ellipse cx="168.80" cy="230.61" rx="2.22" ry="1.95"/>
<ellipse cx="172.07" cy="123.90" rx="2.22" ry="1.95"/>
<ellipse cx="175.34" cy="190.86" rx="2.22" ry="1.95"/>
<ellipse cx="178.61" cy="216.55" rx="2.22" ry="1.95"/>
<ellipse cx="181.88" cy="227.29" rx="2.22" ry="1.95"/>
<ellipse cx="185.15" cy="236.40" rx="2.22" ry="1.95"/>
<ellipse cx="188.42" cy="204.03" rx="2.22" ry="1.95"/>
<ellipse cx="191.69" cy="256.41" rx="2.22" ry="1.95"/>
<ellipse cx="194.96" cy="262.86" rx="2.22" ry="1.95"/>
<ellipse cx="198.23" cy="262.50" rx="2.22" ry="1.95"/>
<ellipse cx="201.50" cy="258.01" rx="2.22" ry="1.95"/>
<ellipse cx="204.77" cy="247.85" rx="2.22" ry="1.95"/>
<ellipse cx="208.04" cy="230.00" rx="2.22" ry="1.95"/>
<ellipse cx="211.31" cy="220.14" rx="2.22" ry="1.95"/>
<ellipse cx="214.58" cy="194.64" rx="2.22" ry="1.95"/>
<ellipse cx="217.85" cy="237.64" rx="2.22" ry="1.95"/>
<ellipse cx="221.12" cy="258.82" rx="2.22" ry="1.95"/>
<ellipse cx="224.39" cy="275.39" rx="2.22" ry="1.95"/>
<ellipse cx="227.66" cy="271.50" rx="2.22" ry="1.95"/>
<ellipse cx="230.93" cy="262.85" rx="2.22" ry="1.95"/>
<ellipse cx="234.20" cy="262.89" rx="2.22" ry="1.95"/>
<ellipse cx="237.47" cy="270.63" rx="2.22" ry="1.95"/>
<ellipse cx="240.74" cy="269.90" rx="2.22" ry="1.95"/>
<ellipse cx="244.01" cy="253.95" rx="2.22" ry="1.95"/>
<ellipse cx="247.28" cy="235.63" rx="2.22" ry="1.95"/>
<ellipse cx="250.55" cy="177.76" rx="2.22" ry="1.95"/>
<ellipse cx="253.82" cy="223.26" rx="2.22" ry="1.95"/>
<ellipse cx="257.09" cy="233.59" rx="2.22" ry="1.95"/>
<ellipse cx="260.36" cy="245.69" rx="2.22" ry="1.95"/>
<ellipse cx="263.63" cy="254.95" rx="2.22" ry="1.95"/>
<ellipse cx="266.90" cy="261.96" rx="2.22" ry="1.95"/>
<ellipse cx="270.17" cy="261.22" rx="2.22" ry="1.95"/>
<ellipse cx="273.44" cy="264.09" rx="2.22" ry="1.95"/>
<ellipse cx="276.71" cy="263.49" rx="2.22" ry="1.95"/>
<ellipse cx="279.98" cy="257.91" rx="2.22" ry="1.95"/>
<ellipse cx="283.25" cy="256.17" rx="2.22" ry="1.95"/>
<ellipse cx="286.52" cy="234.86" rx="2.22" ry="1.95"/>
<ellipse cx="289.79" cy="227.82" rx="2.22" ry="1.95"/>
<ellipse cx="293.06" cy="244.09" rx="2.22" ry="1.95"/>
<ellipse cx="296.33" cy="264.35" rx="2.22" ry="1.95"/>
<ellipse cx="299.60" cy="267.29" rx="2.22" ry="1.95"/>
<ellipse cx="302.87" cy="247.83" rx="2.22" ry="1.95"/>
<ellipse cx="306.14" cy="262.78" rx="2.22" ry="1.95"/>
<ellipse cx="309.41" cy="272.47" rx="2.22" ry="1.95"/>
<ellipse cx="312.68" cy="269.84" rx="2.22" ry="1.95"/>
<ellipse cx="315.95" cy="267.23" rx="2.22" ry="1.95"/>
<ellipse cx="319.22" cy="259.96" rx="2.22" ry="1.95"/>
<ellipse cx="322.49" cy="248.33" rx="2.22" ry="1.95"/>
<ellipse cx="325.76" cy="228.17" rx="2.22" ry="1.95"/>
<ellipse cx="329.03" cy="192.76" rx="2.22" ry="1.95"/>
<ellipse cx="332.30" cy="206.53" rx="2.22" ry="1.95"/>
<ellipse cx="335.57" cy="219.43" rx="2.22" ry="1.95"/>
<ellipse cx="338.84" cy="248.97" rx="2.22" ry="1.95"/>
<ellipse cx="342.11" cy="261.19" rx="2.22" ry="1.95"/>
<ellipse cx="345.38" cy="260.99" rx="2.22" ry="1.95"/>
<ellipse cx="348.65" cy="257.54" rx="2.22" ry="1.95"/>
<ellipse cx="351.92" cy="260.30" rx="2.22" ry="1.95"/>
<ellipse cx="355.19" cy="264.57" rx="2.22" ry="1.95"/>
<ellipse cx="358.46" cy="259.76" rx="2.22" ry="1.95"/>
<ellipse cx="361.73" cy="243.40" rx="2.22" ry="1.95"/>
<ellipse cx="365.00" cy="216.51" rx="2.22" ry="1.95"/>
<ellipse cx="368.27" cy="222.11" rx="2.22" ry="1.95"/>
<ellipse cx="371.54" cy="243.45" rx="2.22" ry="1.95"/>
<ellipse cx="374.81" cy="212.90" rx="2.22" ry="1.95"/>
<ellipse cx="378.08" cy="238.53" rx="2.22" ry="1.95"/>
<ellipse cx="381.35" cy="260.47" rx="2.22" ry="1.95"/>
<ellipse cx="384.62" cy="256.71" rx="2.22" ry="1.95"/>
<ellipse cx="387.89" cy="263.54" rx="2.22" ry="1.95"/>
<ellipse cx="391.16" cy="267.07" rx="2.22" ry="1.95"/>
<ellipse cx="394.43" cy="271.53" rx="2.22" ry="1.95"/>
<ellipse cx="397.70" cy="261.79" rx="2.22" ry="1.95"/>
<ellipse cx="400.97" cy="239.11" rx="2.22" ry="1.95"/>
<ellipse cx="404.24" cy="218.40" rx="2.22" ry="1.95"/>
<ellipse cx="407.51" cy="207.57" rx="2.22" ry="1.95"/>
<ellipse cx="410.78" cy="216.75" rx="2.22" ry="1.95"/>
<ellipse cx="414.05" cy="225.24" rx="2.22" ry="1.95"/>
<ellipse cx="417.32" cy="231.57" rx="2.22" ry="1.95"/>
<ellipse cx="420.59" cy="249.08" rx="2.22" ry="1.95"/>
<ellipse cx="423.86" cy="262.01" rx="2.22" ry="1.95"/>
<ellipse cx="427.13" cy="267.32" rx="2.22" ry="1.95"/>
<ellipse cx="430.40" cy="261.55" rx="2.22" ry="1.95"/>
<ellipse cx="433.67" cy="259.74" rx="2.22" ry="1.95"/>
<ellipse cx="436.94" cy="263.42" rx="2.22" ry="1.95"/>
<ellipse cx="440.21" cy="251.98" rx="2.22" ry="1.95"/>
<ellipse cx="443.48" cy="213.52" rx="2.22" ry="1.95"/>
<ellipse cx="446.75" cy="199.02" rx="2.22" ry="1.95"/>
<ellipse cx="450.02" cy="225.87" rx="2.22" ry="1.95"/>
<ellipse cx="453.29" cy="234.08" rx="2.22" ry="1.95"/>
<ellipse cx="456.56" cy="209.73" rx="2.22" ry="1.95"/>
<ellipse cx="459.83" cy="225.18" rx="2.22" ry="1.95"/>
<ellipse cx="463.10" cy="216.05" rx="2.22" ry="1.95"/>
<ellipse cx="466.37" cy="235.79" rx="2.22" ry="1.95"/>
<ellipse cx="469.64" cy="246.77" rx="2.22" ry="1.95"/>
<ellipse cx="472.91" cy="249.86" rx="2.22" ry="1.95"/>
<ellipse cx="476.18" cy="250.01" rx="2.22" ry="1.95"/>
<ellipse cx="479.45" cy="236.58" rx="2.22" ry="1.95"/>
<ellipse cx="482.72" cy="212.60" rx="2.22" ry="1.95"/>
<ellipse cx="485.99" cy="200.27" rx="2.22" ry="1.95"/>
<ellipse cx="489.26" cy="219.05" rx="2.22" ry="1.95"/>
<ellipse cx="492.53" cy="234.08" rx="2.22" ry="1.95"/>
<ellipse cx="495.80" cy="247.50" rx="2.22" ry="1.95"/>
<ellipse cx="499.07" cy="259.18" rx="2.22" ry="1.95"/>
<ellipse cx="502.34" cy="260.21" rx="2.22" ry="1.95"/>
<ellipse cx="505.61" cy="264.76" rx="2.22" ry="1.95"/>
<ellipse cx="508.88" cy="266.63" rx="2.22" ry="1.95"/>
<ellipse cx="512.15" cy="259.66" rx="2.22" ry="1.95"/>
<ellipse cx="515.42" cy="252.44" rx="2.22" ry="1.95"/>
<ellipse cx="518.69" cy="245.06" rx="2.22" ry="1.95"/>
<ellipse cx="521.96" cy="234.08" rx="2.22" ry="1.95"/>
<ellipse cx="525.23" cy="209.66" rx="2.22" ry="1.95"/>
<ellipse cx="528.50" cy="167.09" rx="2.22" ry="1.95"/>
<ellipse cx="531.77" cy="205.28" rx="2.22" ry="1.95"/>
<ellipse cx="535.04" cy="223.67" rx="2.22" ry="1.95"/>
<ellipse cx="538.31" cy="251.60" rx="2.22" ry="1.95"/>
<ellipse cx="541.58" cy="255.18" rx="2.22" ry="1.95"/>
<ellipse cx="544.85" cy="261.93" rx="2.22" ry="1.95"/>
</g>
<g fill="none" stroke="#ff2a35" stroke-width="0.85">
<ellipse cx="41.27" cy="257.24" rx="3.36" ry="2.74"/>
<ellipse cx="44.54" cy="270.19" rx="3.36" ry="2.74"/>
<ellipse cx="47.81" cy="260.37" rx="3.36" ry="2.74"/>
<ellipse cx="51.08" cy="230.92" rx="3.36" ry="2.74"/>
<ellipse cx="54.35" cy="68.81" rx="3.36" ry="2.74"/>
<ellipse cx="57.62" cy="199.61" rx="3.36" ry="2.74"/>
<ellipse cx="60.89" cy="245.10" rx="3.36" ry="2.74"/>
<ellipse cx="64.16" cy="249.10" rx="3.36" ry="2.74"/>
<ellipse cx="67.43" cy="260.93" rx="3.36" ry="2.74"/>
<ellipse cx="70.70" cy="265.56" rx="3.36" ry="2.74"/>
<ellipse cx="73.97" cy="266.62" rx="3.36" ry="2.74"/>
<ellipse cx="77.24" cy="268.81" rx="3.36" ry="2.74"/>
<ellipse cx="80.51" cy="269.87" rx="3.36" ry="2.74"/>
<ellipse cx="83.78" cy="262.79" rx="3.36" ry="2.74"/>
<ellipse cx="87.05" cy="252.23" rx="3.36" ry="2.74"/>
<ellipse cx="90.32" cy="225.71" rx="3.36" ry="2.74"/>
<ellipse cx="93.59" cy="192.13" rx="3.36" ry="2.74"/>
<ellipse cx="96.86" cy="156.76" rx="3.36" ry="2.74"/>
<ellipse cx="100.13" cy="165.22" rx="3.36" ry="2.74"/>
<ellipse cx="103.40" cy="250.70" rx="3.36" ry="2.74"/>
<ellipse cx="106.67" cy="265.74" rx="3.36" ry="2.74"/>
<ellipse cx="109.94" cy="264.96" rx="3.36" ry="2.74"/>
<ellipse cx="113.21" cy="260.37" rx="3.36" ry="2.74"/>
<ellipse cx="116.48" cy="266.93" rx="3.36" ry="2.74"/>
<ellipse cx="119.75" cy="266.15" rx="3.36" ry="2.74"/>
<ellipse cx="123.02" cy="263.74" rx="3.36" ry="2.74"/>
<ellipse cx="126.29" cy="262.19" rx="3.36" ry="2.74"/>
<ellipse cx="129.56" cy="254.73" rx="3.36" ry="2.74"/>
<ellipse cx="132.83" cy="192.76" rx="3.36" ry="2.74"/>
<ellipse cx="136.10" cy="219.67" rx="3.36" ry="2.74"/>
<ellipse cx="139.37" cy="227.89" rx="3.36" ry="2.74"/>
<ellipse cx="142.64" cy="239.08" rx="3.36" ry="2.74"/>
<ellipse cx="145.91" cy="261.58" rx="3.36" ry="2.74"/>
<ellipse cx="149.18" cy="264.18" rx="3.36" ry="2.74"/>
<ellipse cx="152.45" cy="269.76" rx="3.36" ry="2.74"/>
<ellipse cx="155.72" cy="264.87" rx="3.36" ry="2.74"/>
<ellipse cx="158.99" cy="263.24" rx="3.36" ry="2.74"/>
<ellipse cx="162.26" cy="261.72" rx="3.36" ry="2.74"/>
<ellipse cx="165.53" cy="255.99" rx="3.36" ry="2.74"/>
<ellipse cx="168.80" cy="232.31" rx="3.36" ry="2.74"/>
<ellipse cx="172.07" cy="109.50" rx="3.36" ry="2.74"/>
<ellipse cx="175.34" cy="186.50" rx="3.36" ry="2.74"/>
<ellipse cx="178.61" cy="207.97" rx="3.36" ry="2.74"/>
<ellipse cx="181.88" cy="222.18" rx="3.36" ry="2.74"/>
<ellipse cx="185.15" cy="227.82" rx="3.36" ry="2.74"/>
<ellipse cx="188.42" cy="188.00" rx="3.36" ry="2.74"/>
<ellipse cx="191.69" cy="256.61" rx="3.36" ry="2.74"/>
<ellipse cx="194.96" cy="245.97" rx="3.36" ry="2.74"/>
<ellipse cx="198.23" cy="263.59" rx="3.36" ry="2.74"/>
<ellipse cx="201.50" cy="260.48" rx="3.36" ry="2.74"/>
<ellipse cx="204.77" cy="248.08" rx="3.36" ry="2.74"/>
<ellipse cx="208.04" cy="234.81" rx="3.36" ry="2.74"/>
<ellipse cx="211.31" cy="214.29" rx="3.36" ry="2.74"/>
<ellipse cx="214.58" cy="189.00" rx="3.36" ry="2.74"/>
<ellipse cx="217.85" cy="237.83" rx="3.36" ry="2.74"/>
<ellipse cx="221.12" cy="249.10" rx="3.36" ry="2.74"/>
<ellipse cx="224.39" cy="280.40" rx="3.36" ry="2.74"/>
<ellipse cx="227.66" cy="273.67" rx="3.36" ry="2.74"/>
<ellipse cx="230.93" cy="265.39" rx="3.36" ry="2.74"/>
<ellipse cx="234.20" cy="265.06" rx="3.36" ry="2.74"/>
<ellipse cx="237.47" cy="271.29" rx="3.36" ry="2.74"/>
<ellipse cx="240.74" cy="263.50" rx="3.36" ry="2.74"/>
<ellipse cx="244.01" cy="257.99" rx="3.36" ry="2.74"/>
<ellipse cx="247.28" cy="238.16" rx="3.36" ry="2.74"/>
<ellipse cx="250.55" cy="178.31" rx="3.36" ry="2.74"/>
<ellipse cx="253.82" cy="224.17" rx="3.36" ry="2.74"/>
<ellipse cx="257.09" cy="237.79" rx="3.36" ry="2.74"/>
<ellipse cx="260.36" cy="242.84" rx="3.36" ry="2.74"/>
<ellipse cx="263.63" cy="252.17" rx="3.36" ry="2.74"/>
<ellipse cx="266.90" cy="258.24" rx="3.36" ry="2.74"/>
<ellipse cx="270.17" cy="263.07" rx="3.36" ry="2.74"/>
<ellipse cx="273.44" cy="263.14" rx="3.36" ry="2.74"/>
<ellipse cx="276.71" cy="268.51" rx="3.36" ry="2.74"/>
<ellipse cx="279.98" cy="257.25" rx="3.36" ry="2.74"/>
<ellipse cx="283.25" cy="250.98" rx="3.36" ry="2.74"/>
<ellipse cx="286.52" cy="238.05" rx="3.36" ry="2.74"/>
<ellipse cx="289.79" cy="233.34" rx="3.36" ry="2.74"/>
<ellipse cx="293.06" cy="247.85" rx="3.36" ry="2.74"/>
<ellipse cx="296.33" cy="262.29" rx="3.36" ry="2.74"/>
<ellipse cx="299.60" cy="253.48" rx="3.36" ry="2.74"/>
<ellipse cx="302.87" cy="254.11" rx="3.36" ry="2.74"/>
<ellipse cx="306.14" cy="265.75" rx="3.36" ry="2.74"/>
<ellipse cx="309.41" cy="273.51" rx="3.36" ry="2.74"/>
<ellipse cx="312.68" cy="269.76" rx="3.36" ry="2.74"/>
<ellipse cx="315.95" cy="268.06" rx="3.36" ry="2.74"/>
<ellipse cx="319.22" cy="259.75" rx="3.36" ry="2.74"/>
<ellipse cx="322.49" cy="252.65" rx="3.36" ry="2.74"/>
<ellipse cx="325.76" cy="222.18" rx="3.36" ry="2.74"/>
<ellipse cx="329.03" cy="205.91" rx="3.36" ry="2.74"/>
<ellipse cx="332.30" cy="202.40" rx="3.36" ry="2.74"/>
<ellipse cx="335.57" cy="215.30" rx="3.36" ry="2.74"/>
<ellipse cx="338.84" cy="244.09" rx="3.36" ry="2.74"/>
<ellipse cx="342.11" cy="268.51" rx="3.36" ry="2.74"/>
<ellipse cx="345.38" cy="261.76" rx="3.36" ry="2.74"/>
<ellipse cx="348.65" cy="256.40" rx="3.36" ry="2.74"/>
<ellipse cx="351.92" cy="260.67" rx="3.36" ry="2.74"/>
<ellipse cx="355.19" cy="264.94" rx="3.36" ry="2.74"/>
<ellipse cx="358.46" cy="257.86" rx="3.36" ry="2.74"/>
<ellipse cx="361.73" cy="242.84" rx="3.36" ry="2.74"/>
<ellipse cx="365.00" cy="225.00" rx="3.36" ry="2.74"/>
<ellipse cx="368.27" cy="221.96" rx="3.36" ry="2.74"/>
<ellipse cx="371.54" cy="242.45" rx="3.36" ry="2.74"/>
<ellipse cx="374.81" cy="205.91" rx="3.36" ry="2.74"/>
<ellipse cx="378.08" cy="239.23" rx="3.36" ry="2.74"/>
<ellipse cx="381.35" cy="249.73" rx="3.36" ry="2.74"/>
<ellipse cx="384.62" cy="255.68" rx="3.36" ry="2.74"/>
<ellipse cx="387.89" cy="264.53" rx="3.36" ry="2.74"/>
<ellipse cx="391.16" cy="266.53" rx="3.36" ry="2.74"/>
<ellipse cx="394.43" cy="268.39" rx="3.36" ry="2.74"/>
<ellipse cx="397.70" cy="255.36" rx="3.36" ry="2.74"/>
<ellipse cx="400.97" cy="242.72" rx="3.36" ry="2.74"/>
<ellipse cx="404.24" cy="215.92" rx="3.36" ry="2.74"/>
<ellipse cx="407.51" cy="200.27" rx="3.36" ry="2.74"/>
<ellipse cx="410.78" cy="205.59" rx="3.36" ry="2.74"/>
<ellipse cx="414.05" cy="217.80" rx="3.36" ry="2.74"/>
<ellipse cx="417.32" cy="229.07" rx="3.36" ry="2.74"/>
<ellipse cx="420.59" cy="250.25" rx="3.36" ry="2.74"/>
<ellipse cx="423.86" cy="259.37" rx="3.36" ry="2.74"/>
<ellipse cx="427.13" cy="267.25" rx="3.36" ry="2.74"/>
<ellipse cx="430.40" cy="265.32" rx="3.36" ry="2.74"/>
<ellipse cx="433.67" cy="259.12" rx="3.36" ry="2.74"/>
<ellipse cx="436.94" cy="263.38" rx="3.36" ry="2.74"/>
<ellipse cx="440.21" cy="254.53" rx="3.36" ry="2.74"/>
<ellipse cx="443.48" cy="212.42" rx="3.36" ry="2.74"/>
<ellipse cx="446.75" cy="192.13" rx="3.36" ry="2.74"/>
<ellipse cx="450.02" cy="222.18" rx="3.36" ry="2.74"/>
<ellipse cx="453.29" cy="231.45" rx="3.36" ry="2.74"/>
<ellipse cx="456.56" cy="204.03" rx="3.36" ry="2.74"/>
<ellipse cx="459.83" cy="229.12" rx="3.36" ry="2.74"/>
<ellipse cx="463.10" cy="210.91" rx="3.36" ry="2.74"/>
<ellipse cx="466.37" cy="238.49" rx="3.36" ry="2.74"/>
<ellipse cx="469.64" cy="243.73" rx="3.36" ry="2.74"/>
<ellipse cx="472.91" cy="248.38" rx="3.36" ry="2.74"/>
<ellipse cx="476.18" cy="249.10" rx="3.36" ry="2.74"/>
<ellipse cx="479.45" cy="227.82" rx="3.36" ry="2.74"/>
<ellipse cx="482.72" cy="212.04" rx="3.36" ry="2.74"/>
<ellipse cx="485.99" cy="192.45" rx="3.36" ry="2.74"/>
<ellipse cx="489.26" cy="225.94" rx="3.36" ry="2.74"/>
<ellipse cx="492.53" cy="225.94" rx="3.36" ry="2.74"/>
<ellipse cx="495.80" cy="243.47" rx="3.36" ry="2.74"/>
<ellipse cx="499.07" cy="261.89" rx="3.36" ry="2.74"/>
<ellipse cx="502.34" cy="260.37" rx="3.36" ry="2.74"/>
<ellipse cx="505.61" cy="264.64" rx="3.36" ry="2.74"/>
<ellipse cx="508.88" cy="263.26" rx="3.36" ry="2.74"/>
<ellipse cx="512.15" cy="263.01" rx="3.36" ry="2.74"/>
<ellipse cx="515.42" cy="250.04" rx="3.36" ry="2.74"/>
<ellipse cx="518.69" cy="244.06" rx="3.36" ry="2.74"/>
<ellipse cx="521.96" cy="227.19" rx="3.36" ry="2.74"/>
<ellipse cx="525.23" cy="208.61" rx="3.36" ry="2.74"/>
<ellipse cx="528.50" cy="152.07" rx="3.36" ry="2.74"/>
<ellipse cx="531.77" cy="198.02" rx="3.36" ry="2.74"/>
<ellipse cx="535.04" cy="217.80" rx="3.36" ry="2.74"/>
<ellipse cx="538.31" cy="250.97" rx="3.36" ry="2.74"/>
<ellipse cx="541.58" cy="255.36" rx="3.36" ry="2.74"/>
<ellipse cx="544.85" cy="261.98" rx="3.36" ry="2.74"/>
</g>
<g font-family="'Liberation Sans', Arial, sans-serif" font-size="8.9" fill="#111" stroke="#111" stroke-width="0.15">
<path d="M66.9 8.4H99.4" stroke="#ffa80a" stroke-width="1.2"/><circle cx="83.2" cy="8.4" r="1.3" fill="#ffa80a" stroke="none"/>
<text transform="translate(102.2 11.6) scale(1.10 1)">Observed</text>
<ellipse cx="83.2" cy="19.8" rx="2.22" ry="1.95" fill="none" stroke="#a85fdc" stroke-width="0.85"/>
<text transform="translate(102.2 22.9) scale(1.10 1)">DWT-LSTM</text>
<ellipse cx="175.9" cy="8.4" rx="2.22" ry="1.95" fill="none" stroke="#333333" stroke-width="0.85"/>
<text transform="translate(195.1 11.6) scale(1.10 1)">GRU</text>
<ellipse cx="175.9" cy="19.8" rx="3.36" ry="2.95" fill="none" stroke="#ff2a35" stroke-width="0.85"/>
<text transform="translate(195.1 22.9) scale(1.10 1)">DWT-VMD-GRU</text>
<ellipse cx="289.2" cy="8.4" rx="2.22" ry="1.95" fill="none" stroke="#14e614" stroke-width="0.85"/>
<text transform="translate(307.9 11.6) scale(1.10 1)">LSTM</text>
<ellipse cx="453.7" cy="8.4" rx="2.22" ry="1.95" fill="none" stroke="#3cc4f2" stroke-width="0.85"/>
<text transform="translate(472.2 11.6) scale(1.10 1)">DWT-GRU</text>
</g>
</svg>
</body></html>
